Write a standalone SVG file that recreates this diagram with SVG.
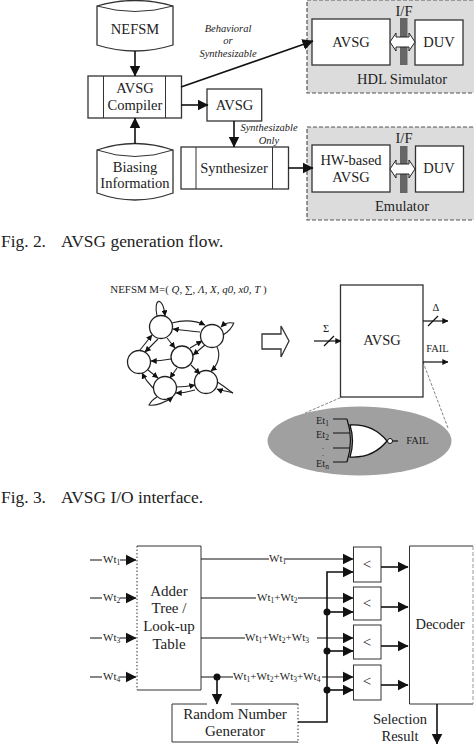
<svg xmlns="http://www.w3.org/2000/svg" width="474" height="744" viewBox="0 0 474 744">
<style>
text{font-family:"Liberation Serif","Times New Roman",serif;fill:#222;text-anchor:middle}
.t{font-size:14.5px}
.t15{font-size:15px}
.i{font-size:10.5px;font-style:italic}
.s{font-size:10.5px}
.ti{font-size:10.9px}
.w{font-size:11px;text-anchor:start}
.sub{font-size:7.5px}
.dot{font-size:6px;font-weight:bold}
.cap{font-size:17.4px;text-anchor:start}
.b{fill:#fff;stroke:#333;stroke-width:1.3}
.l{fill:none;stroke:#333;stroke-width:1}
.g{fill:#dcdcdc;stroke:#555;stroke-width:1.2;stroke-dasharray:4 2}
.bar{fill:#666}
.da{fill:#fff;stroke:#222;stroke-width:1}
.c{fill:none;stroke:#111;stroke-width:1.6}
.cs{fill:none;stroke:#111;stroke-width:1.2}
.cc{fill:none;stroke:#222;stroke-width:1.1}
.d{fill:#111}
.st{fill:#fff;stroke:#222;stroke-width:1.3}
.dash{fill:none;stroke:#666;stroke-width:.8;stroke-dasharray:3 1.5}
</style>
<defs>
<marker id="ah" viewBox="0 0 10 10" refX="9.5" refY="5" markerUnits="userSpaceOnUse" markerWidth="11" markerHeight="12" orient="auto"><path d="M0,0L10,5L0,10Z" fill="#111"/></marker>
<marker id="ahs" viewBox="0 0 10 10" refX="9.5" refY="5" markerUnits="userSpaceOnUse" markerWidth="6" markerHeight="6" orient="auto"><path d="M0,0L10,5L0,10Z" fill="#111"/></marker>
</defs>

<g id="fig2-hdl-simulator">
<rect class="g" x="307" y="0" width="168" height="93"/>
<rect class="bar" x="400" y="18" width="7.5" height="47"/>
<rect class="b" x="312" y="19" width="78" height="46"/>
<rect class="b" x="415" y="20" width="48" height="45"/>
<path class="da" d="M390,42L396,33V37H409V33L415,42L409,51V47H396V51Z"/>
<text class="t" x="351" y="47">AVSG</text>
<text class="t" x="439" y="47">DUV</text>
<text class="t" x="404" y="16">I/F</text>
<text class="t" x="402" y="84">HDL Simulator</text>
</g>
<g id="fig2-emulator">
<rect class="g" x="307" y="127" width="168" height="93"/>
<rect class="bar" x="400" y="146" width="7.5" height="47"/>
<rect class="b" x="312" y="145" width="78" height="47"/>
<rect class="b" x="415.5" y="146" width="48" height="46"/>
<path class="da" d="M390,169L396,160V164H409V160L415,169L409,178V174H396V178Z"/>
<text class="t" x="351" y="165">HW-based</text>
<text class="t" x="351" y="182">AVSG</text>
<text class="t" x="439" y="173">DUV</text>
<text class="t" x="404" y="143">I/F</text>
<text class="t" x="402" y="211">Emulator</text>
</g>
<g id="fig2-nefsm">
<path class="b" d="M97,6Q135,-5 173,6V45Q135,57 97,45Z"/>
<path class="l" d="M97,6Q135,17 173,6"/>
<text class="t" x="135" y="34">NEFSM</text>
</g>
<g id="fig2-compiler">
<rect class="b" x="88" y="76" width="93.500" height="42"/>
<path class="l" d="M103.500,76V118M165.500,76V118"/>
<text class="t" x="135" y="93">AVSG</text>
<text class="t" x="135" y="110">Compiler</text>
</g>
<g id="fig2-biasing">
<path class="b" d="M97,150Q135,137 173,150V193Q135,207 97,193Z"/>
<path class="l" d="M97,150Q135,163 173,150"/>
<text class="t" x="135" y="172">Biasing</text>
<text class="t" x="135" y="188">Information</text>
</g>
<g id="fig2-avsg">
<rect class="b" x="207" y="89" width="54.700" height="32"/>
<text class="t" x="234.500" y="110">AVSG</text>
</g>
<g id="fig2-synthesizer">
<rect class="b" x="181" y="147" width="107.500" height="42"/>
<path class="l" d="M196,147V189M272.500,147V189"/>
<text class="t" x="234" y="173">Synthesizer</text>
</g>
<g id="fig2-connectors">
<path class="c" d="M135,51V76" marker-end="url(#ah)"/>
<path class="c" d="M135,144V118" marker-end="url(#ah)"/>
<path class="c" d="M181,105H208" marker-end="url(#ah)"/>
<path class="c" d="M234,121V147" marker-end="url(#ah)"/>
<path class="c" d="M288,168H313" marker-end="url(#ah)"/>
<path class="c" d="M181,87L313,41" marker-end="url(#ah)"/>
<text class="i" x="228" y="32">Behavioral</text>
<text class="i" x="228" y="44">or</text>
<text class="i" x="228" y="57">Synthesizable</text>
<text class="i" x="269" y="131">Synthesizable</text>
<text class="i" x="269" y="144">Only</text>
</g>
<text class="cap" x="1" y="247">Fig. 2.</text>
<text class="cap" x="61" y="247">AVSG generation flow.</text>

<text class="ti" x="188.500" y="292.500">NEFSM M=( <tspan font-style="italic">Q, ∑, Λ, X, q0, x0, T</tspan> )</text>
<g id="fig3-states">
<circle class="st" cx="161" cy="327" r="11.500"/>
<circle class="st" cx="212" cy="336" r="11.500"/>
<circle class="st" cx="139" cy="362" r="11.500"/>
<circle class="st" cx="182" cy="357" r="11"/>
<circle class="st" cx="206" cy="382" r="11.500"/>
<circle class="st" cx="165" cy="388" r="11.500"/>
</g>
<g id="fig3-transitions">
<path class="cc" d="M157,316C153,298 163,295 165,316" marker-end="url(#ahs)"/>
<path class="cc" d="M233,323C227,322 224,324 221,327" marker-end="url(#ahs)"/>
<path class="cc" d="M223,335C228,332 232,328 234,322.500"/>
<path class="cc" d="M233,393C228,391 222,391 217,389" marker-end="url(#ahs)"/>
<path class="cc" d="M217,382C223,385 228,390 233,393"/>
<path class="cc" d="M157,397C152,400 150,403 149,405C155,406 165,403 173,397" marker-end="url(#ahs)"/>
<path class="cc" d="M172,323Q190,318 205,325" marker-end="url(#ahs)"/>
<path class="cc" d="M200,332Q190,331 173,329" marker-end="url(#ahs)"/>
<path class="cc" d="M140,350L152,335" marker-end="url(#ahs)"/>
<path class="cc" d="M158,339L145,352" marker-end="url(#ahs)"/>
<path class="cc" d="M167,338L175,348" marker-end="url(#ahs)"/>
<path class="cc" d="M171,359Q160,361 151,361" marker-end="url(#ahs)"/>
<path class="cc" d="M190,348L202,341" marker-end="url(#ahs)"/>
<path class="cc" d="M205,345L193,355" marker-end="url(#ahs)"/>
<path class="cc" d="M217,347C221,355 218,365 211,371" marker-end="url(#ahs)"/>
<path class="cc" d="M191,365L200,374" marker-end="url(#ahs)"/>
<path class="cc" d="M177,368L170,378" marker-end="url(#ahs)"/>
<path class="cc" d="M148,370L158,378" marker-end="url(#ahs)"/>
<path class="cc" d="M153,388Q146,381 142,373" marker-end="url(#ahs)"/>
<path class="cc" d="M176,387Q185,387 195,385" marker-end="url(#ahs)"/>
<path class="cc" d="M195,390Q185,393 176,393" marker-end="url(#ahs)"/>
</g>
<g id="fig3-transform-arrow">
<path class="b" d="M262,334H281V326L289,341L281,357V349H262Z"/>
</g>
<g id="fig3-lens">
<path class="dash" d="M423,362L305,413M423,362L448,428"/>
<ellipse cx="359.500" cy="441" rx="92" ry="34.500" fill="#a0a0a0"/>
<path d="M333,419H347M333,433H350M333,448H350M333,462H347" class="cs"/>
<path d="M347,419Q354,440 347,462" class="cs"/>
<path d="M350,425C366,424 378,430 387,441C378,452 366,458 350,457Q355,441 350,425Z" fill="#fff" stroke="#111" stroke-width="1.300"/>
<circle cx="390" cy="441" r="2.500" fill="#fff" stroke="#111" stroke-width="1"/>
<path class="cs" d="M392.500,441H398"/>
<text class="s" x="322.500" y="424">Et<tspan class="sub" dy="2">1</tspan></text>
<text class="s" x="322.500" y="438">Et<tspan class="sub" dy="2">2</tspan></text>
<text class="dot" x="323" y="449">.</text>
<text class="dot" x="323" y="456">.</text>
<text class="s" x="322.500" y="467">Et<tspan class="sub" dy="2">n</tspan></text>
<text class="s" x="417.500" y="444">FAIL</text>
</g>
<g id="fig3-avsg">
<rect class="b" x="340.500" y="285" width="82.500" height="112" fill="#fff"/>
<text class="t" x="382" y="345">AVSG</text>
</g>
<g id="fig3-io">
<path class="cs" d="M314,341H341" marker-end="url(#ahs)"/>
<path class="cs" d="M324,346L334,336"/>
<path class="cs" d="M423,321H448" marker-end="url(#ahs)"/>
<path class="cs" d="M428,326L438,316"/>
<path class="cs" d="M423,362H448" marker-end="url(#ahs)"/>
<text class="s" x="326" y="332">Σ</text>
<text class="s" x="436" y="311">Δ</text>
<text class="s" x="437.500" y="352">FAIL</text>
</g>
<text class="cap" x="1" y="503">Fig. 3.</text>
<text class="cap" x="61" y="503">AVSG I/O interface.</text>

<g id="fig4-adder">
<path class="l" d="M137,546H201V690H137" stroke-width="1.200"/>
<path class="l" d="M137,546V690" stroke-dasharray="1.500 2"/>
<text class="t15" x="169" y="596">Adder</text>
<text class="t15" x="169" y="613">Tree /</text>
<text class="t15" x="169" y="631">Look-up</text>
<text class="t15" x="169" y="649">Table</text>
</g>
<g id="fig4-rng">
<path class="l" d="M172,742V704H207M231,704H298"/>
<path class="l" d="M298,704V743" stroke-dasharray="1.500 2"/>
<path class="l" d="M172,742H298"/>
<text class="t15" x="235" y="719">Random Number</text>
<text class="t15" x="235" y="736">Generator</text>
</g>
<g id="fig4-comparators">
<rect class="l" x="353.500" y="547" width="27.500" height="35"/>
<rect class="l" x="353.500" y="587" width="27.500" height="33"/>
<rect class="l" x="353.500" y="625" width="27.500" height="34"/>
<rect class="l" x="353.500" y="665" width="27.500" height="35"/>
<text class="t15" x="367" y="569">&lt;</text>
<text class="t15" x="367" y="608">&lt;</text>
<text class="t15" x="367" y="647">&lt;</text>
<text class="t15" x="367" y="686">&lt;</text>
</g>
<g id="fig4-decoder">
<path class="l" d="M473,546H409.500V704H473"/>
<path d="M473,546V704" fill="none" stroke="#999" stroke-width="1" stroke-dasharray="4 2"/>
<text class="t" x="440" y="629">Decoder</text>
</g>
<g id="fig4-connectors">
<path class="cs" d="M90,560H102M120,560H136" marker-end="url(#ah)"/>
<path class="cs" d="M90,598H102M120,598H136" marker-end="url(#ah)"/>
<path class="cs" d="M90,638H102M120,638H136" marker-end="url(#ah)"/>
<path class="cs" d="M90,677H102M120,677H136" marker-end="url(#ah)"/>
<path class="cs" d="M201,559H269M285,559H353" marker-end="url(#ah)"/>
<path class="cs" d="M201,598H256M298,598H353" marker-end="url(#ah)"/>
<path class="cs" d="M201,638H245M317,638H353" marker-end="url(#ah)"/>
<path class="cs" d="M201,677H233M322,677H353" marker-end="url(#ah)"/>
<path class="c" d="M298,722H327V572H353" marker-end="url(#ah)"/>
<path class="c" d="M327,612H353" marker-end="url(#ah)"/>
<path class="c" d="M327,651H353" marker-end="url(#ah)"/>
<path class="c" d="M327,690H353" marker-end="url(#ah)"/>
<circle class="d" cx="327" cy="612" r="3.500"/>
<circle class="d" cx="327" cy="651" r="3.500"/>
<circle class="d" cx="327" cy="690" r="3.500"/>
<circle class="d" cx="217" cy="677" r="3.500"/>
<path class="c" d="M217,677V704" marker-end="url(#ah)"/>
<path class="c" d="M381,567H408" marker-end="url(#ah)"/>
<path class="c" d="M381,607H408" marker-end="url(#ah)"/>
<path class="c" d="M381,646H408" marker-end="url(#ah)"/>
<path class="c" d="M381,685H408" marker-end="url(#ah)"/>
<path class="c" d="M437,704V744" marker-end="url(#ah)"/>
<text class="w" x="103" y="563">Wt<tspan class="sub" dy="2">1</tspan></text>
<text class="w" x="103" y="601">Wt<tspan class="sub" dy="2">2</tspan></text>
<text class="w" x="103" y="641">Wt<tspan class="sub" dy="2">3</tspan></text>
<text class="w" x="103" y="680">Wt<tspan class="sub" dy="2">4</tspan></text>
<text class="w" x="269" y="562">Wt<tspan class="sub" dy="2">1</tspan></text>
<text class="w" x="257" y="601">Wt<tspan class="sub" dy="2">1</tspan><tspan dy="-2">+Wt</tspan><tspan class="sub" dy="2">2</tspan></text>
<text class="w" x="245" y="641">Wt<tspan class="sub" dy="2">1</tspan><tspan dy="-2">+Wt</tspan><tspan class="sub" dy="2">2</tspan><tspan dy="-2">+Wt</tspan><tspan class="sub" dy="2">3</tspan></text>
<text class="w" x="233" y="680">Wt<tspan class="sub" dy="2">1</tspan><tspan dy="-2">+Wt</tspan><tspan class="sub" dy="2">2</tspan><tspan dy="-2">+Wt</tspan><tspan class="sub" dy="2">3</tspan><tspan dy="-2">+Wt</tspan><tspan class="sub" dy="2">4</tspan></text>
<text class="t" x="400" y="724">Selection</text>
<text class="t" x="400" y="741">Result</text>
</g>
</svg>
